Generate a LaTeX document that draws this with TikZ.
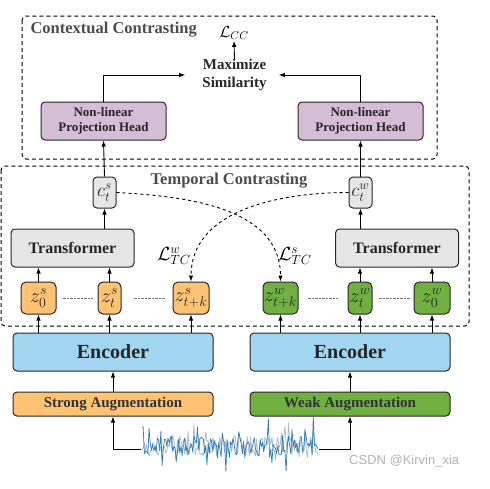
\RequirePackage{fix-cm}
\documentclass[tikz,border=0pt]{standalone}
\usepackage{fontspec}
\setmainfont{Liberation Serif}
\newfontfamily\wmfont{Liberation Sans}
\usetikzlibrary{arrows.meta}
\definecolor{zorange}{HTML}{FFC373}
\definecolor{zgreen}{HTML}{6FB040}
\definecolor{headpurple}{HTML}{D6BDD6}
\definecolor{encblue}{HTML}{A2D5EF}
\definecolor{boxgray}{HTML}{E6E6E6}
\definecolor{sigblue}{HTML}{2C7BBA}
\definecolor{siggray}{HTML}{A9B8C8}
\begin{document}
\begin{tikzpicture}[x=1pt,y=-1pt,line join=round,>={Latex[length=6pt,width=4.5pt]},
	blk/.style={draw=black!85,line width=1pt,rounded corners=4pt,inner sep=1pt,align=center,text=black!85},
	headbox/.style={blk,fill=headpurple,minimum width=125pt,minimum height=38pt,font=\bfseries\fontsize{13}{15}\selectfont},
	trbox/.style={blk,fill=boxgray,minimum width=123pt,minimum height=38pt,font=\bfseries\fontsize{16}{18}\selectfont},
	encbox/.style={blk,fill=encblue,minimum width=200pt,minimum height=38pt,font=\bfseries\fontsize{20}{22}\selectfont},
	augbox/.style={blk,minimum width=200pt,minimum height=24pt,text=black!80,font=\bfseries\fontsize{15}{16}\selectfont},
	cbox/.style={blk,fill=boxgray,minimum width=23pt,minimum height=31pt,inner sep=0pt,font=\fontsize{19}{19}\selectfont},
	zbox/.style={blk,minimum height=32pt,rounded corners=5pt,inner sep=0pt,font=\fontsize{20}{20}\selectfont},
	frame/.style={line width=1pt,dash pattern=on 4pt off 3pt,rounded corners=4pt},
	title/.style={font=\bfseries\fontsize{16.5}{18}\selectfont,text=black!70},
	link/.style={line width=0.9pt,->}]
	\useasboundingbox (0,0) rectangle (490,488);
	% frames
	\draw[frame] (22,16) rectangle (437,159);
	\draw[frame] (1,166) rectangle (469,326);
	\node[title,anchor=west] (ccTitle) at (27,30) {Contextual Contrasting};
	\node[title] (tcTitle) at (229,181) {Temporal Contrasting};
	% contextual part
	\node[font=\fontsize{16}{16}\selectfont,inner sep=1pt] (Lcc) at (234,33) {$\mathcal{L}_{CC}$};
	\node[font=\bfseries\fontsize{15}{18}\selectfont,align=center,inner sep=0pt,text=black!85] (maxsim) at (234.5,75) {Maximize\\Similarity};
	\node[headbox] (headS) at (103.5,121) {Non-linear\\Projection Head};
	\node[headbox] (headW) at (360.5,121) {Non-linear\\Projection Head};
	\draw[link] (maxsim.north) -- (Lcc.south);
	\draw[link] (headS.north) |- ([xshift=-17pt]maxsim.west);
	\draw[link] (headW.north) |- ([xshift=12pt]maxsim.east);
	% temporal part
	\node[cbox] (cS) at (104.5,192.5) {$c^s_t$};
	\node[cbox] (cW) at (360.5,192.5) {$c^w_t$};
	\node[trbox] (trS) at (72.5,248) {Transformer};
	\node[trbox] (trW) at (397,248) {Transformer};
	\foreach \n/\x/\w/\c/\t in {z0s/38.5/35/zorange/z^s_0,zts/109.5/23/zorange/z^s_t,ztks/191/36/zorange/z^s_{t+k},
		ztkw/280.5/35/zgreen/z^w_{t+k},ztw/360/24/zgreen/z^w_t,z0w/432/36/zgreen/z^w_0}
	\node[zbox,fill=\c,minimum width=\w pt] (\n) at (\x,298) {$\t$};
	\foreach \a/\b/\p/\q in {z0s/zts/6/5,zts/ztks/12/8,ztkw/ztw/9/10,ztw/z0w/6/4}
	\draw[densely dotted,black!55,shorten <=\p pt,shorten >=\q pt] (\a.east) -- (\b.west);
	\draw[link] (cS.north) -- (headS.south);
	\draw[link] (cW.north) -- (headW.south);
	\draw[link] (cS.south |- trS.north) -- (cS.south);
	\draw[link] (cW.south |- trW.north) -- (cW.south);
	\foreach \n/\t in {z0s/trS,zts/trS,ztw/trW,z0w/trW}
	\draw[link] (\n.north) -- (\n.north |- \t.south);
	\draw[link,dashed] (cS.east) to[out=-3,in=90] (ztkw.north);
	\draw[link,dashed] (cW.west) to[out=180,in=90] (ztks.north);
	\node[font=\fontsize{19}{19}\selectfont,inner sep=0pt] (Ltcw) at (174,256) {$\mathcal{L}^w_{TC}$};
	\node[font=\fontsize{19}{19}\selectfont,inner sep=0pt] (Ltcs) at (295,256) {$\mathcal{L}^s_{TC}$};
	% encoders and augmentations
	\node[encbox] (encS) at (113,352) {Encoder};
	\node[encbox] (encW) at (350,352) {Encoder};
	\node[augbox,fill=zorange] (augS) at (113,404) {Strong Augmentation};
	\node[augbox,fill=zgreen] (augW) at (350,404) {Weak Augmentation};
	\foreach \n/\e in {z0s/encS,zts/encS,ztks/encS,ztkw/encW,ztw/encW,z0w/encW}
	\draw[link] (\n.south |- \e.north) -- (\n.south);
	\draw[link] (augS.north) -- (encS.south);
	\draw[link] (augW.north) -- (encW.south);
	% signal
	\coordinate (sigS) at (141,449);
	\coordinate (sigW) at (319,449);
	\draw[link] (sigS) -| (augS.south);
	\draw[link] (sigW) -| (augW.south);
	\pgfmathsetseed{11}
	\draw[siggray,line width=0.7pt] plot[domain=142:318,samples=150] (\x,{446+10*rand+22*rand^7});
	\pgfmathsetseed{5}
	\draw[sigblue,line width=0.7pt] plot[domain=142:318,samples=150] (\x,{446+10*rand+22*rand^7});
	\node[anchor=west,font=\wmfont\fontsize{13}{13}\selectfont,text=black!30,inner sep=0pt] (wm) at (349,461) {CSDN @Kirvin\_xia};
\end{tikzpicture}
\end{document}
